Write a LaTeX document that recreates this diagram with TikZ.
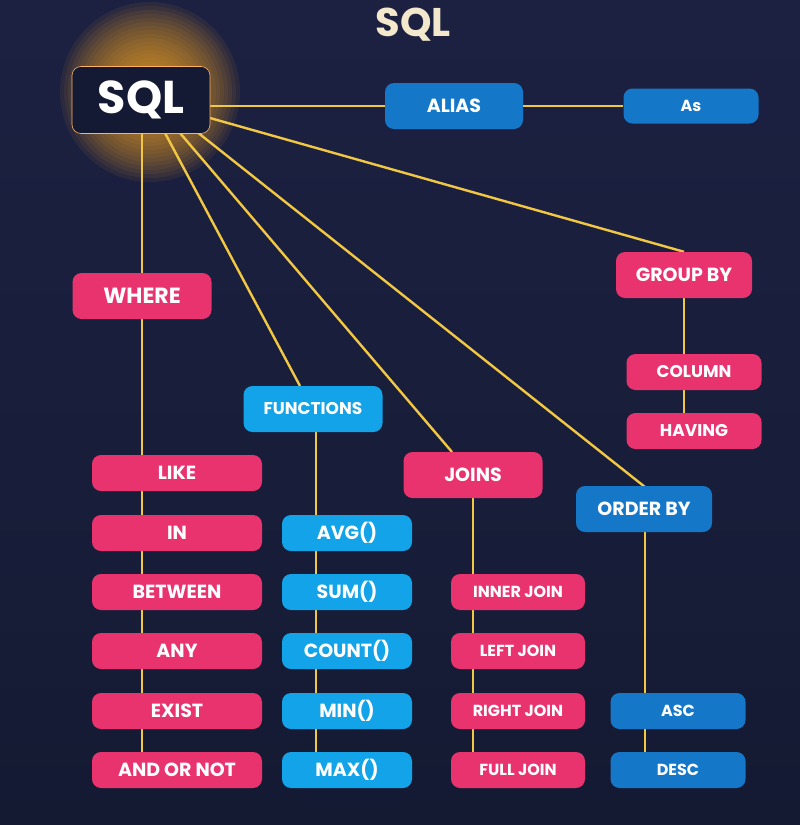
\documentclass[tikz,border=0pt]{standalone}
\usepackage{fontspec}
\setmainfont{Poppins}
\pgfdeclarelayer{bgl}\pgfdeclarelayer{lines}
\pgfsetlayers{bgl,lines,main}
\definecolor{bgtop}{HTML}{1C2142}
\definecolor{bgbot}{HTML}{151A33}
\definecolor{pinkc}{HTML}{E8336F}
\definecolor{bluec}{HTML}{1577C8}
\definecolor{cyanc}{HTML}{12A3E8}
\definecolor{linec}{HTML}{F2C744}
\definecolor{darkc}{HTML}{141A33}
\definecolor{titlec}{HTML}{F3E8CC}
\definecolor{glowc}{HTML}{F5A623}
\begin{document}
\begin{tikzpicture}[x=1pt,y=-1pt,
 pill/.style={rounded corners=9pt,text=white,font=\bfseries\fontsize{19}{19}\selectfont,inner sep=0pt,anchor=center},
 pk/.style={pill,fill=pinkc},
 bl/.style={pill,fill=bluec},
 cy/.style={pill,fill=cyanc},
 big/.style={minimum width=138pt,minimum height=46pt},
 sm/.style={minimum height=36pt},
 ln/.style={draw=linec,line width=2.4pt}]
\begin{pgfonlayer}{bgl}
\shade[top color=bgtop,bottom color=bgbot] (0,0) rectangle (800,825);
\foreach \r in {90,86,...,30}{
 \fill[glowc,opacity=0.07] (150,92) circle (\r);}
\end{pgfonlayer}
\node[text=titlec,font=\bfseries\fontsize{40}{40}\selectfont] (title) at (413,25) {SQL};
\node[pill,fill=darkc,draw=orange!60,line width=0.6pt,minimum width=138pt,minimum height=67pt,font=\bfseries\fontsize{46}{46}\selectfont] (sql) at (141,100) {SQL};
\node[bl,big] (alias) at (454,106) {ALIAS};
\node[bl,sm,minimum width=135pt,minimum height=35pt,font=\bfseries\fontsize{16}{16}\selectfont] (as) at (691,106) {As};
\node[pk,big,minimum width=136pt] (group) at (684,275) {GROUP BY};
\node[pk,sm,minimum width=135pt,font=\bfseries\fontsize{17}{17}\selectfont] (column) at (694,372) {COLUMN};
\node[pk,sm,minimum width=135pt,font=\bfseries\fontsize{17}{17}\selectfont] (having) at (694,431) {HAVING};
\node[pk,big,minimum width=139pt,font=\bfseries\fontsize{22}{22}\selectfont] (where) at (142,296) {WHERE};
\foreach \n/\t/\y in {like/LIKE/473,in/IN/533,between/BETWEEN/592,any/ANY/651,exist/EXIST/711,aon/AND OR NOT/770}
 \node[pk,sm,minimum width=170pt] (\n) at (177,\y) {\t};
\node[cy,big,minimum width=139pt,font=\bfseries\fontsize{17}{17}\selectfont] (func) at (313,409) {FUNCTIONS};
\foreach \n/\t/\y in {avg/AVG()/533,sum/SUM()/592,count/COUNT()/651,min/MIN()/711,max/MAX()/770}
 \node[cy,sm,minimum width=130pt] (\n) at (347,\y) {\t};
\node[pk,big,minimum width=139pt] (joins) at (473,475) {JOINS};
\foreach \n/\t/\y in {inner/INNER JOIN/592,left/LEFT JOIN/651,right/RIGHT JOIN/711,full/FULL JOIN/770}
 \node[pk,sm,minimum width=134pt,font=\bfseries\fontsize{16}{16}\selectfont] (\n) at (518,\y) {\t};
\node[bl,big,minimum width=136pt] (order) at (644,509) {ORDER BY};
\node[bl,sm,minimum width=135pt,font=\bfseries\fontsize{16}{16}\selectfont] (asc) at (678,711) {ASC};
\node[bl,sm,minimum width=135pt,font=\bfseries\fontsize{16}{16}\selectfont] (desc) at (678,770) {DESC};
\begin{pgfonlayer}{lines}
\draw[ln] (sql.east|-alias) -- (alias) -- (as);
\draw[ln] (210,118) -- (group.north);
\draw[ln] (group) -- (group|-having);
\draw[ln] (142,133) -- (where) -- (142,770);
\draw[ln] (165,133) -- (300,386);
\draw[ln] (316,409) -- (316,770);
\draw[ln] (180,133) -- (452,452);
\draw[ln] (473,475) -- (473,770);
\draw[ln] (192,128) -- (645,487);
\draw[ln] (645,509) -- (645,770);
\end{pgfonlayer}
\end{tikzpicture}
\end{document}
